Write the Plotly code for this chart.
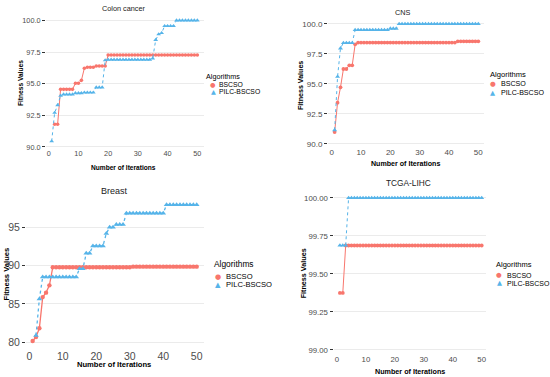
import plotly.graph_objects as go

W, H = 550, 377
RED = "#F8766D"
BLUE = "#56B4E9"
FONT = "Liberation Sans, Arial, sans-serif"

iterations = list(range(1, 51))
x_ticks = [0, 10, 20, 30, 40, 50]

colon_bscso = [
    None, 91.8, 91.8, 94.55, 94.55, 94.55, 94.55, 94.55, 95.03, 95.03,
    95.26, 96.22, 96.3, 96.3, 96.3, 96.39, 96.39, 96.39, 96.39, 97.26,
    97.26, 97.26, 97.26, 97.26, 97.26, 97.26, 97.26, 97.26, 97.26, 97.26,
    97.26, 97.26, 97.26, 97.26, 97.26, 97.26, 97.26, 97.26, 97.26, 97.26,
    97.26, 97.26, 97.26, 97.26, 97.26, 97.26, 97.26, 97.26, 97.26, 97.26,
]
colon_pilc = [
    90.45, 92.7, 93.3, 94.05, 94.15, 94.15, 94.15, 94.15, 94.25, 94.25,
    94.25, 94.3, 94.3, 94.3, 94.3, 94.7, 94.7, 94.7, 96.85, 96.9,
    96.9, 96.9, 96.9, 96.9, 96.9, 96.9, 96.9, 96.9, 96.9, 96.9,
    96.9, 96.9, 96.9, 96.9, 97.0, 98.45, 98.9, 99.0, 99.55, 99.55,
    99.55, 99.55, 100.0, 100.0, 100.0, 100.0, 100.0, 100.0, 100.0, 100.0,
]
cns_bscso = [
    90.97, 93.43, 94.71, 96.24, 96.24, 96.55, 96.55, 98.3, 98.45, 98.45,
    98.45, 98.45, 98.45, 98.45, 98.45, 98.45, 98.45, 98.45, 98.45, 98.45,
    98.45, 98.45, 98.45, 98.45, 98.45, 98.45, 98.45, 98.45, 98.45, 98.45,
    98.45, 98.45, 98.45, 98.45, 98.45, 98.45, 98.45, 98.45, 98.45, 98.45,
    98.45, 98.45, 98.55, 98.55, 98.55, 98.55, 98.55, 98.55, 98.55, 98.55,
]
cns_pilc = [
    91.14, 95.6, 97.97, 98.42, 98.42, 98.42, 98.42, 99.5, 99.5, 99.5,
    99.5, 99.5, 99.5, 99.5, 99.5, 99.5, 99.5, 99.5, 99.5, 99.62,
    99.62, 99.62, 100.0, 100.0, 100.0, 100.0, 100.0, 100.0, 100.0, 100.0,
    100.0, 100.0, 100.0, 100.0, 100.0, 100.0, 100.0, 100.0, 100.0, 100.0,
    100.0, 100.0, 100.0, 100.0, 100.0, 100.0, 100.0, 100.0, 100.0, 100.0,
]
breast_bscso = [
    80.17, 80.7, 81.83, 85.9, 86.48, 87.43, 89.78, 89.78, 89.78, 89.78,
    89.78, 89.78, 89.78, 89.78, 89.78, 89.78, 89.78, 89.78, 89.78, 89.78,
    89.78, 89.78, 89.78, 89.78, 89.78, 89.78, 89.78, 89.78, 89.78, 89.78,
    89.87, 89.87, 89.87, 89.87, 89.87, 89.87, 89.87, 89.87, 89.87, 89.87,
    89.87, 89.87, 89.87, 89.87, 89.87, 89.87, 89.87, 89.87, 89.87, 89.87,
]
breast_pilc = [
    None, 80.9, 85.65, 88.52, 88.52, 88.52, 88.52, 88.52, 88.52, 88.52,
    88.52, 88.52, 88.52, 88.52, 89.6, 89.6, 91.6, 91.6, 92.57, 92.57,
    92.57, 92.57, 94.2, 95.0, 95.0, 95.35, 95.35, 95.35, 96.83, 96.83,
    96.83, 96.83, 96.83, 96.83, 96.83, 96.83, 96.83, 96.83, 96.83, 96.83,
    97.95, 97.95, 97.95, 97.95, 97.95, 97.95, 97.95, 97.95, 97.95, 97.95,
]
tcga_bscso = [
    99.375, 99.375, 99.6875, 99.6875, 99.6875, 99.6875, 99.6875, 99.6875, 99.6875, 99.6875,
    99.6875, 99.6875, 99.6875, 99.6875, 99.6875, 99.6875, 99.6875, 99.6875, 99.6875, 99.6875,
    99.6875, 99.6875, 99.6875, 99.6875, 99.6875, 99.6875, 99.6875, 99.6875, 99.6875, 99.6875,
    99.6875, 99.6875, 99.6875, 99.6875, 99.6875, 99.6875, 99.6875, 99.6875, 99.6875, 99.6875,
    99.6875, 99.6875, 99.6875, 99.6875, 99.6875, 99.6875, 99.6875, 99.6875, 99.6875, 99.6875,
]
tcga_pilc = [
    99.6875, 99.6875, 99.6875, 100.0, 100.0, 100.0, 100.0, 100.0, 100.0, 100.0,
    100.0, 100.0, 100.0, 100.0, 100.0, 100.0, 100.0, 100.0, 100.0, 100.0,
    100.0, 100.0, 100.0, 100.0, 100.0, 100.0, 100.0, 100.0, 100.0, 100.0,
    100.0, 100.0, 100.0, 100.0, 100.0, 100.0, 100.0, 100.0, 100.0, 100.0,
    100.0, 100.0, 100.0, 100.0, 100.0, 100.0, 100.0, 100.0, 100.0, 100.0,
]

series_names = ["BSCSO", "PILC-BSCSO"]
legend_title = "Algorithms"
y_title = "Fitness Values"
x_title = "Number of Iterations"

# layout of each panel (pixel boxes in the 550x377 canvas)
panels = [
    dict(title="Colon cancer", b=colon_bscso, p=colon_pilc,
         xd=(46, 204), yd=(14, 148), xr=(-0.91, 52.25), yr=(89.92, 100.5),
         yt=[90, 92.5, 95, 97.5, 100], fmt=".1f", tfs=7.3, ms=3.6, lw=1.0,
         tpos=(124, 8), tfs_t=7.3, ytx=20, yty=83, xtpos=(123, 167), afs=6.6,
         leg=(204, 76, 213, 217, 84.8, 91.3), lfs=6.8, ltfs=7.2),
    dict(title="CNS", b=cns_bscso, p=cns_pilc,
         xd=(328, 484), yd=(18, 146), xr=(-1.26, 51.94), yr=(89.81, 100.5),
         yt=[90, 92.5, 95, 97.5, 100], fmt=".1f", tfs=8, ms=3.8, lw=1.0,
         tpos=(403, 12), tfs_t=7.3, ytx=301, yty=86, xtpos=(405, 164), afs=7.1,
         leg=(488, 74, 493, 499, 83.8, 92.8), lfs=7.1, ltfs=7.6),
    dict(title="Breast", b=breast_bscso, p=breast_pilc,
         xd=(26, 203.5), yd=(197, 348), xr=(-0.99, 52.03), yr=(79.26, 98.95),
         yt=[80, 85, 90, 95], fmt="d", tfs=10.5, ms=4.4, lw=1.3,
         tpos=(115, 191), tfs_t=9, ytx=5.5, yty=274, xtpos=(114, 364.7), afs=7.6,
         leg=(212, 264.3, 217.5, 224, 276, 284.7), lfs=7.6, ltfs=8.4),
    dict(title="TCGA-LIHC", b=tcga_bscso, p=tcga_pilc,
         xd=(333.5, 486), yd=(191, 353), xr=(-1.21, 51.49), yr=(98.98, 100.046),
         yt=[99, 99.25, 99.5, 99.75, 100], fmt=".2f", tfs=7.8, ms=3.8, lw=1.0,
         tpos=(408, 183), tfs_t=8.3, ytx=303.3, yty=273, xtpos=(410, 371), afs=7.2,
         leg=(494.3, 264.7, 499, 505, 275.3, 283), lfs=7.0, ltfs=7.5),
]


def fx(px):
    return px / W


def fy(py):
    return 1 - py / H


fig = go.Figure()
annotations = []
layout_axes = {}

for k, pn in enumerate(panels, start=1):
    sx = "" if k == 1 else str(k)
    xa, ya = "x" + sx, "y" + sx
    fig.add_trace(go.Scatter(
        x=iterations, y=pn["b"], mode="lines+markers", name=series_names[0],
        line=dict(color=RED, width=pn["lw"]),
        marker=dict(symbol="circle", size=pn["ms"], color=RED),
        xaxis=xa, yaxis=ya, showlegend=False, cliponaxis=False))
    fig.add_trace(go.Scatter(
        x=iterations, y=pn["p"], mode="lines+markers", name=series_names[1],
        line=dict(color=BLUE, width=pn["lw"], dash="dot"),
        marker=dict(symbol="triangle-up", size=pn["ms"] + 0.6, color=BLUE),
        xaxis=xa, yaxis=ya, showlegend=False, cliponaxis=False))

    layout_axes["xaxis" + sx] = dict(
        domain=[fx(pn["xd"][0]), fx(pn["xd"][1])], range=list(pn["xr"]),
        anchor=ya, tickvals=x_ticks, showgrid=False, zeroline=False,
        showline=False, ticks="", automargin=False,
        tickfont=dict(size=pn["tfs"], color="#4D4D4D", family=FONT),
        fixedrange=True)
    layout_axes["yaxis" + sx] = dict(
        domain=[fy(pn["yd"][1]), fy(pn["yd"][0])], range=list(pn["yr"]),
        anchor=xa, tickvals=pn["yt"], tickformat=pn["fmt"], showgrid=True,
        gridcolor="#EBEBEB", gridwidth=0.9, zeroline=False, showline=False,
        ticks="outside", ticklen=3, tickwidth=0.8, tickcolor="#333333",
        automargin=False,
        tickfont=dict(size=pn["tfs"], color="#4D4D4D", family=FONT), fixedrange=True)

    # panel title
    annotations.append(dict(text=pn["title"], x=fx(pn["tpos"][0]), y=fy(pn["tpos"][1]),
                            xref="paper", yref="paper", showarrow=False,
                            xanchor="center", yanchor="middle",
                            font=dict(size=pn["tfs_t"], color="#222222", family=FONT)))
    # axis titles
    annotations.append(dict(text="<b>" + y_title + "</b>", x=fx(pn["ytx"]), y=fy(pn["yty"]),
                            xref="paper", yref="paper", showarrow=False, textangle=-90,
                            xanchor="center", yanchor="middle",
                            font=dict(size=pn["afs"], color="#000000", family=FONT)))
    annotations.append(dict(text="<b>" + x_title + "</b>", x=fx(pn["xtpos"][0]), y=fy(pn["xtpos"][1]),
                            xref="paper", yref="paper", showarrow=False,
                            xanchor="center", yanchor="middle",
                            font=dict(size=pn["afs"], color="#000000", family=FONT)))
    # legend (title, keys, labels)
    lx, ly, kx, tx, r1, r2 = pn["leg"]
    annotations.append(dict(text=legend_title, x=fx(lx), y=fy(ly), xref="paper", yref="paper",
                            showarrow=False, xanchor="left", yanchor="middle",
                            font=dict(size=pn["ltfs"], color="#000000", family=FONT)))
    for glyph, col, name, ry in [("●", RED, series_names[0], r1), ("▲", BLUE, series_names[1], r2)]:
        annotations.append(dict(text=glyph, x=fx(kx), y=fy(ry), xref="paper", yref="paper",
                                showarrow=False, xanchor="center", yanchor="middle",
                                font=dict(size=pn["lfs"] - 0.5, color=col, family="DejaVu Sans")))
        annotations.append(dict(text=name, x=fx(tx), y=fy(ry), xref="paper", yref="paper",
                                showarrow=False, xanchor="left", yanchor="middle",
                                font=dict(size=pn["lfs"], color="#000000", family=FONT)))

fig.update_layout(
    width=W, height=H, margin=dict(l=0, r=0, t=0, b=0, autoexpand=False),
    paper_bgcolor="white", plot_bgcolor="white",
    showlegend=False, annotations=annotations, **layout_axes)

fig.write_html("out.html", config={"displayModeBar": False},
               post_script="document.body.style.margin='0';document.body.style.padding='0';")
